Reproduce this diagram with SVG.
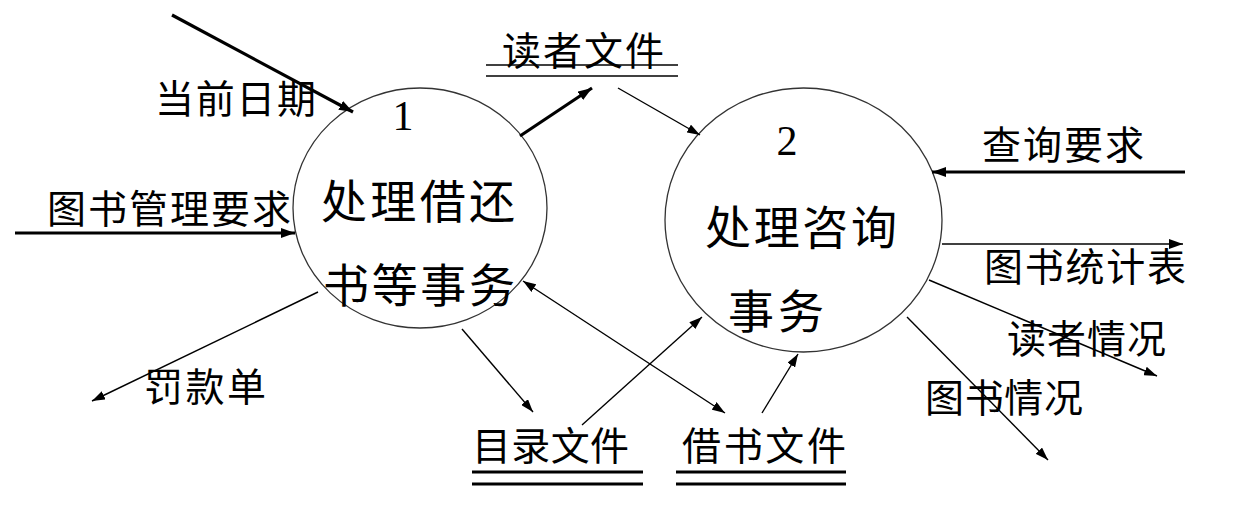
<svg xmlns="http://www.w3.org/2000/svg" width="1253" height="523" viewBox="0 0 1253 523">
<style>
.t{font-family:"Noto Sans CJK SC","Noto Sans",sans-serif;fill:#000}
.lab{font-size:39px}
.in{font-size:46px}
.num{font-family:"Liberation Serif",serif;font-size:42px;fill:#000;text-anchor:middle}
.proc{fill:#fff;stroke:#333;stroke-width:1.3}
.thick{stroke:#000;stroke-width:3.2;fill:none}
.thin{stroke:#000;stroke-width:1.4;fill:none}
.ul{stroke:#000;stroke-width:1.4}
.ul2{stroke:#000;stroke-width:3}
</style>
<defs>
<marker id="ah" viewBox="0 0 14 10" refX="14" refY="5" markerWidth="14" markerHeight="10" markerUnits="userSpaceOnUse" orient="auto-start-reverse"><path d="M0,0 L14,5 L0,10 z" fill="#000"/></marker>
<marker id="ahs" viewBox="0 0 13 9" refX="13" refY="4.5" markerWidth="13" markerHeight="9" markerUnits="userSpaceOnUse" orient="auto-start-reverse"><path d="M0,0 L13,4.5 L0,9 z" fill="#000"/></marker>
</defs>
<rect width="1253" height="523" fill="#fff"/>
<g id="p1">
<ellipse class="proc" cx="420" cy="208" rx="127" ry="120"/>
<text class="num" x="403" y="130">1</text>
<text class="t in" x="321" y="218" textLength="194" lengthAdjust="spacing">处理借还</text>
<text class="t in" x="323" y="302" textLength="192" lengthAdjust="spacing">书等事务</text>
</g>
<g id="p2">
<ellipse class="proc" cx="803.5" cy="220" rx="138.5" ry="132"/>
<text class="num" x="787" y="155">2</text>
<text class="t in" x="705" y="244" textLength="192" lengthAdjust="spacing">处理咨询</text>
<text class="t in" x="728" y="328" textLength="96" lengthAdjust="spacing">事务</text>
</g>
<g id="ds-reader">
<text class="t lab" x="502" y="65" textLength="162" lengthAdjust="spacing">读者文件</text>
<line class="ul" x1="486" y1="65" x2="678" y2="65"/>
<line class="ul" x1="486" y1="76" x2="678" y2="76"/>
</g>
<g id="ds-catalog">
<text class="t lab" x="472" y="460" textLength="157" lengthAdjust="spacing">目录文件</text>
<line class="ul2" x1="472" y1="472" x2="643" y2="472"/>
<line class="ul2" x1="472" y1="484" x2="643" y2="484"/>
</g>
<g id="ds-borrow">
<text class="t lab" x="682" y="460" textLength="164" lengthAdjust="spacing">借书文件</text>
<line class="ul2" x1="676" y1="472" x2="846" y2="472"/>
<line class="ul2" x1="676" y1="484" x2="846" y2="484"/>
</g>
<g id="labels">
<text class="t lab" x="155" y="113" textLength="161" lengthAdjust="spacing">当前日期</text>
<text class="t lab" x="47" y="223" textLength="244" lengthAdjust="spacing">图书管理要求</text>
<text class="t lab" x="982" y="159" textLength="162" lengthAdjust="spacing">查询要求</text>
<text class="t lab" x="984" y="281" textLength="202" lengthAdjust="spacing">图书统计表</text>
<text class="t lab" x="1007" y="353" textLength="159" lengthAdjust="spacing">读者情况</text>
<text class="t lab" x="925" y="412" textLength="158" lengthAdjust="spacing">图书情况</text>
<text class="t lab" x="144" y="401" textLength="122" lengthAdjust="spacing">罚款单</text>
</g>
<g id="connectors">
<line class="thick" x1="172" y1="15" x2="353" y2="112" marker-end="url(#ah)"/>
<line class="thick" x1="15" y1="233" x2="295" y2="233" marker-end="url(#ah)"/>
<line class="thick" x1="520" y1="136" x2="592" y2="88" marker-end="url(#ah)"/>
<line class="thin" x1="618" y1="88" x2="700" y2="135" marker-end="url(#ahs)"/>
<line class="thick" x1="1185" y1="172" x2="932" y2="172" marker-end="url(#ah)"/>
<line class="thin" x1="942" y1="244" x2="1183" y2="244" marker-end="url(#ah)"/>
<line class="thin" x1="929" y1="280" x2="1157" y2="376" marker-end="url(#ahs)"/>
<line class="thin" x1="907" y1="317" x2="1048" y2="460" marker-end="url(#ahs)"/>
<line class="thin" x1="318" y1="292" x2="92" y2="401" marker-end="url(#ahs)"/>
<line class="thin" x1="462" y1="329" x2="533" y2="412" marker-end="url(#ahs)"/>
<line class="thin" x1="582" y1="425" x2="702" y2="317" marker-end="url(#ahs)"/>
<line class="thin" x1="523" y1="281" x2="725" y2="413" marker-start="url(#ahs)" marker-end="url(#ahs)"/>
<line class="thin" x1="762" y1="413" x2="798" y2="354" marker-end="url(#ahs)"/>
</g>
</svg>
